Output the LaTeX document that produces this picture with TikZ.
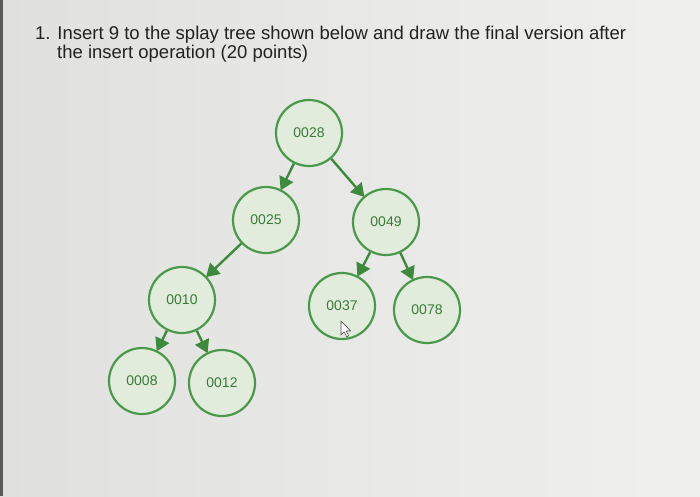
\documentclass[tikz,border=0pt]{standalone}
\usepackage{fontspec}
\setmainfont{Liberation Sans}
\usetikzlibrary{arrows.meta}
\definecolor{bgA}{HTML}{E0E0DE}
\definecolor{bgB}{HTML}{F0F0EE}
\definecolor{nodefill}{HTML}{E2ECDC}
\definecolor{nodeline}{HTML}{4A984A}
\definecolor{nodetext}{HTML}{3A7A3A}
\definecolor{arrowc}{HTML}{3D8A3D}
\definecolor{titlec}{HTML}{222222}
\tikzset{
  treenode/.style={circle, draw=nodeline, line width=2.2pt, fill=nodefill,
    minimum size=66pt, inner sep=0pt, text=nodetext, font=\fontsize{14}{16}\selectfont},
  treeedge/.style={draw=arrowc, line width=2.4pt,
    -{Triangle[length=13pt,width=15pt]}, shorten >=-1pt},
  titletext/.style={anchor=base west, text=titlec, inner sep=0pt,
    font=\fontsize{18.5}{22}\selectfont}
}
\begin{document}
\begin{tikzpicture}[x=1pt,y=-1pt]
\useasboundingbox (0,0) rectangle (700,496);
\shade[left color=bgA, right color=bgB] (0,0) rectangle (700,496);
\fill[gray!70!black] (0,0) rectangle (2.5,496);
% title
\node[titletext] (t1) at (35,39) {1. Insert 9 to the splay tree shown below and draw the final version after};
\node[titletext] (t2) at (57,58) {the insert operation (20 points)};
% nodes
\node[treenode] (n28) at (309,133) {0028};
\node[treenode] (n25) at (266,220) {0025};
\node[treenode] (n49) at (386,222) {0049};
\node[treenode] (n10) at (182,300) {0010};
\node[treenode] (n37) at (342,306) {0037};
\node[treenode] (n78) at (427,310) {0078};
\node[treenode] (n08) at (142,381) {0008};
\node[treenode] (n12) at (222,383) {0012};
% edges
\draw[treeedge] (n28) -- (n25);
\draw[treeedge] (n28) -- (n49);
\draw[treeedge] (n25) -- (n10);
\draw[treeedge] (n49) -- (n37);
\draw[treeedge] (n49) -- (n78);
\draw[treeedge] (n10) -- (n08);
\draw[treeedge] (n10) -- (n12);
% mouse pointer
\coordinate (cur) at (341,321);
\draw[gray!60!black, fill=white, line width=0.6pt, line join=round]
  (cur) -- ++(0,14) -- ++(3.2,-3.2) -- ++(2.4,5) -- ++(2,-1) -- ++(-2.3,-4.8) -- ++(4.5,0) -- cycle;
\end{tikzpicture}
\end{document}
